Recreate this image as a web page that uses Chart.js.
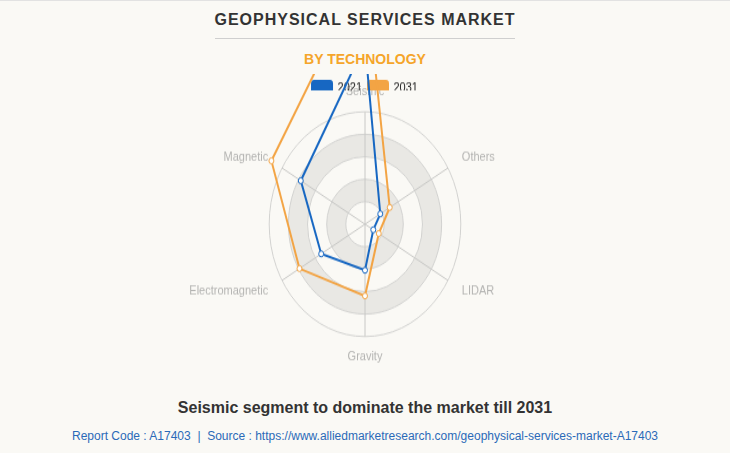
<!DOCTYPE html>
<html>
<head>
<meta charset="utf-8">
<script src="https://cdn.jsdelivr.net/npm/chart.js@4"></script>
<style>
  html, body { margin: 0; padding: 0; }
  body { width: 730px; height: 453px; background: #faf9f5; font-family: "Liberation Sans", Arial, sans-serif; position: relative; overflow: hidden; box-sizing: border-box; border-top: 1px solid #e2e2e2; }
  .title { position: absolute; top: 10px; left: 0; width: 730px; text-align: center; font-weight: bold; font-size: 16px; letter-spacing: 1px; color: #333; }
  .rule { position: absolute; top: 37px; left: 215px; width: 300px; height: 1px; background: #cfcfcf; }
  .sub { position: absolute; top: 50px; left: 0; width: 730px; text-align: center; font-weight: bold; font-size: 14px; color: #f5a52a; }
  #wrap { position: absolute; top: 73px; left: 0; width: 730px; }
  #chart { display: block; }
  .foot { position: absolute; top: 398px; left: 0; width: 730px; text-align: center; font-weight: bold; font-size: 16px; color: #333; }
  .src { position: absolute; top: 428px; left: 0; width: 730px; text-align: center; font-size: 12px; color: #2a6ab8; }
</style>
</head>
<body>
<div class="title">GEOPHYSICAL SERVICES MARKET</div>
<div class="rule"></div>
<div class="sub">BY TECHNOLOGY</div>
<div id="wrap"><canvas id="chart" width="730" height="254" style="width:730px;height:298px"></canvas></div>
<div class="foot">Seismic segment to dominate the market till 2031</div>
<div class="src">Report Code : A17403&nbsp; | &nbsp;Source : https://www.alliedmarketresearch.com/geophysical-services-market-A17403</div>
<script>
const labels = ['Seismic', 'Others', 'LIDAR', 'Gravity', 'Electromagnetic', 'Magnetic']
const values2021 = [80, 9.2, 5, 20.5, 26.4, 38.7]
const values2031 = [113, 14.9, 8.3, 31.9, 39.5, 56.4]
const years = ['2021', '2031']
const blue = '#1767c2'
const orange = '#f3a444'

// grey rings between every other grid circle
const bands = {
  id: 'bands',
  beforeDraw(chart) {
    const s = chart.scales.r
    const ctx = chart.ctx
    const ticks = s.ticks
    ctx.save()
    for (let i = 1; i + 1 < ticks.length; i += 2) {
      const r1 = s.getDistanceFromCenterForValue(ticks[i].value)
      const r2 = s.getDistanceFromCenterForValue(ticks[i + 1].value)
      ctx.beginPath()
      ctx.arc(s.xCenter, s.yCenter, r2, 0, Math.PI * 2)
      ctx.arc(s.xCenter, s.yCenter, r1, 0, Math.PI * 2, true)
      ctx.fillStyle = '#e9e8e4'
      ctx.fill()
    }
    ctx.restore()
  }
}

const ctx = document.getElementById('chart').getContext('2d')
const chart = new Chart(ctx, {
  type: 'radar',
  data: {
    labels: labels,
    datasets: [
      {
        label: years[0],
        data: values2021,
        borderColor: blue,
        backgroundColor: blue,
        borderWidth: 2,
        fill: false,
        clip: false,
        pointRadius: 2.5,
        pointBorderWidth: 1,
        pointBackgroundColor: '#fff',
        pointBorderColor: blue
      },
      {
        label: years[1],
        data: values2031,
        borderColor: orange,
        backgroundColor: orange,
        borderWidth: 2,
        fill: false,
        clip: false,
        pointRadius: 2.5,
        pointBorderWidth: 1,
        pointBackgroundColor: '#fff',
        pointBorderColor: orange
      }
    ]
  },
  options: {
    responsive: false,
    animation: false,
    devicePixelRatio: 1,
    layout: { padding: { bottom: 12 } },
    plugins: {
      legend: {
        position: 'top',
        maxHeight: 14,
        labels: {
          boxWidth: 20,
          boxHeight: 11,
          padding: 6,
          useBorderRadius: true,
          borderRadius: 2,
          color: '#222',
          font: { size: 11, family: 'Liberation Sans' }
        }
      },
      tooltip: { enabled: false }
    },
    scales: {
      r: {
        min: 0,
        max: 50,
        ticks: { display: false, stepSize: 10 },
        grid: { color: '#d2d2d0', circular: true },
        angleLines: { color: '#c8c8c6' },
        pointLabels: {
          color: '#b4b4b2',
          padding: 16,
          font: { size: 11, family: 'Liberation Sans', lineHeight: 0.2 }
        }
      }
    }
  },
  plugins: [bands]
})
</script>
</body>
</html>
